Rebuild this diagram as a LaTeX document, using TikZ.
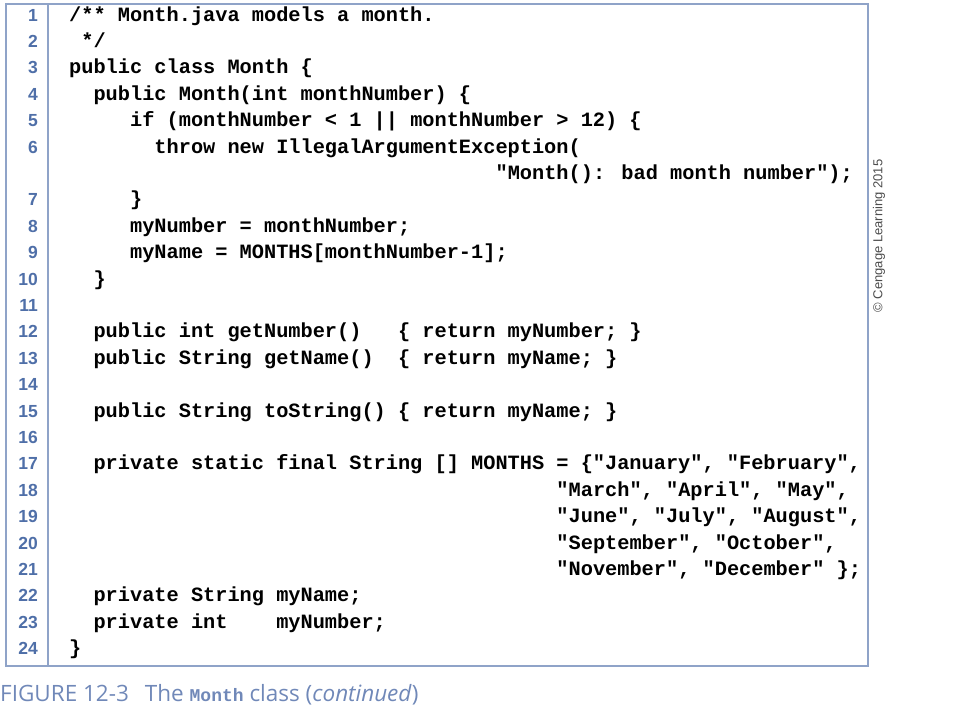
\documentclass[tikz,border=0pt]{standalone}
\usepackage{fontspec}
\setmainfont{Liberation Sans}
\newfontfamily\codef{Liberation Mono}
\newfontfamily\capf{Open Sans}
\definecolor{frame}{HTML}{8FA3C8}
\definecolor{num}{HTML}{4F6FA8}
\definecolor{capc}{HTML}{7088B8}
\begin{document}
\begin{tikzpicture}[x=1pt,y=-1pt,
  code/.style={anchor=base west,inner sep=0pt,font=\codef\bfseries\fontsize{20.3}{22}\selectfont},
  lnum/.style={anchor=base east,inner sep=0pt,text=num,font=\bfseries\fontsize{17.5}{19}\selectfont}]
\useasboundingbox (0,0) rectangle (960,707);
\draw[frame,line width=1.2pt] (6,4) rectangle (868,666);
\draw[frame,line width=1.2pt] (48,4) -- (48,666);
\foreach \n/\s in {1/1,2/2,3/3,4/4,5/5,6/6,7/8,8/9,9/10,10/11,11/12,12/13,13/14,14/15,15/16,16/17,17/18,18/19,19/20,20/21,21/22,22/23,23/24,24/25}
  \node[lnum] (n\n) at (38,{21+(\s-1)*26.4}) {\n};
\foreach \s/\t in {
 1/{/** Month.java models a month.},
 2/{~*/},
 3/{public class Month \{},
 4/{~~public Month(int monthNumber) \{},
 5/{~~~~~if (monthNumber < 1 || monthNumber > 12) \{},
 6/{~~~~~~~throw new IllegalArgumentException(},
 7/{~~~~~~~~~~~~~~~~~~~~~~~~~~~~~~~~~~~"Month(): bad month number");},
 8/{~~~~~\}},
 9/{~~~~~myNumber = monthNumber;},
 10/{~~~~~myName = MONTHS[monthNumber-1];},
 11/{~~\}},
 13/{~~public int getNumber()~~~\{ return myNumber; \}},
 14/{~~public String getName()~~\{ return myName; \}},
 16/{~~public String toString() \{ return myName; \}},
 18/{~~private static final String [] MONTHS = \{"January", "February",},
 19/{~~~~~~~~~~~~~~~~~~~~~~~~~~~~~~~~~~~~~~~~"March", "April", "May",},
 20/{~~~~~~~~~~~~~~~~~~~~~~~~~~~~~~~~~~~~~~~~"June", "July", "August",},
 21/{~~~~~~~~~~~~~~~~~~~~~~~~~~~~~~~~~~~~~~~~"September", "October",},
 22/{~~~~~~~~~~~~~~~~~~~~~~~~~~~~~~~~~~~~~~~~"November", "December" \};},
 23/{~~private String myName;},
 24/{~~private int~~~~myNumber;},
 25/{\}}}
  \node[code] (c\s) at (69,{21+(\s-1)*26.4}) {\t};
\node[rotate=90,inner sep=0pt,text=black!70,font=\fontsize{13}{15}\selectfont] (copy) at (879,236) {\textcopyright{} Cengage Learning 2015};
\node[anchor=base west,inner sep=0pt,text=capc,font=\capf\fontsize{22.5}{24}\selectfont] (cap) at (0,701)
 {FIGURE 12-3\hspace{16pt}The {\codef\bfseries\fontsize{18}{20}\selectfont Month} class (\textit{continued})};
\end{tikzpicture}
\end{document}
